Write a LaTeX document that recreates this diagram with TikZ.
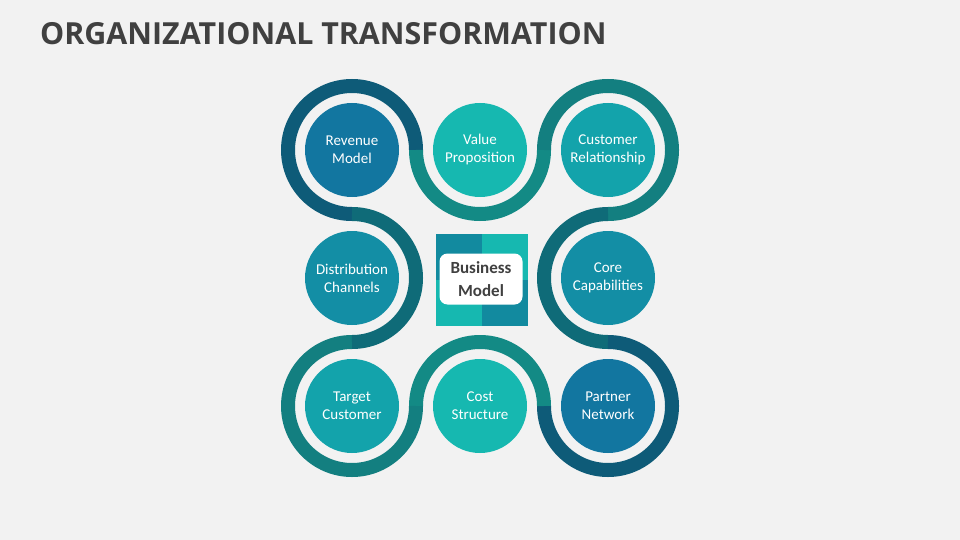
\documentclass[tikz,border=0pt]{standalone}
\usepackage{fontspec}
\setmainfont{Carlito}
\newfontfamily\titlefont{Open Sans}
\definecolor{bg}{HTML}{F2F2F2}
\definecolor{dkb}{HTML}{0E5B78}
\definecolor{tg}{HTML}{138A85}
\definecolor{tm}{HTML}{137F80}
\definecolor{tb}{HTML}{0F6B78}
\definecolor{cblue}{HTML}{1276A0}
\definecolor{clight}{HTML}{16B8B0}
\definecolor{cmid}{HTML}{13A3AB}
\definecolor{cdist}{HTML}{138EA5}
\definecolor{sqd}{HTML}{128A9F}
\begin{document}
\begin{tikzpicture}[x=1pt,y=-1pt,
  ring/.style={line width=14pt},
  disc/.style={circle,minimum size=94pt,inner sep=0pt,text=white,align=center,font=\fontsize{15}{18}\selectfont}]
\fill[bg] (0,0) rectangle (960,540);
\useasboundingbox (0,0) rectangle (960,540);
\node[anchor=base west,inner sep=0pt,text=black!75,font=\titlefont\bfseries\fontsize{30.4}{35}\selectfont] (title) at (40,45) {ORGANIZATIONAL TRANSFORMATION};
\draw[ring,dkb] (416,150) arc[start angle=0,end angle=-270,radius=64];
\draw[ring,tg] (416,150) arc[start angle=180,end angle=0,radius=64];
\draw[ring,tm] (544,150) arc[start angle=180,end angle=450,radius=64];
\draw[ring,tb] (608,214) arc[start angle=-90,end angle=-270,radius=64];
\draw[ring,dkb] (608,342) arc[start angle=-90,end angle=180,radius=64];
\draw[ring,tg] (544,406) arc[start angle=0,end angle=-180,radius=64];
\draw[ring,tm] (416,406) arc[start angle=0,end angle=270,radius=64];
\draw[ring,tb] (352,342) arc[start angle=90,end angle=-90,radius=64];
\node[disc,fill=cblue] (rev) at (352,150) {Revenue\\Model};
\node[disc,fill=clight] (val) at (480,150) {Value\\Proposition};
\node[disc,fill=cmid] (cus) at (608,150) {Customer\\Relationship};
\node[disc,fill=cdist] (dis) at (352,278) {Distribution\\Channels};
\node[disc,fill=cdist] (cor) at (608,278) {Core\\Capabilities};
\node[disc,fill=cmid] (tar) at (352,406) {Target\\Customer};
\node[disc,fill=clight] (cos) at (480,406) {Cost\\Structure};
\node[disc,fill=cblue] (par) at (608,406) {Partner\\Network};
\fill[sqd] (436,234) rectangle (482,280);
\fill[clight] (482,234) rectangle (528,280);
\fill[clight] (436,280) rectangle (482,326);
\fill[sqd] (482,280) rectangle (528,326);
\node[fill=white,rounded corners=8pt,minimum width=83pt,minimum height=51pt,align=center,text=black!75,font=\bfseries\fontsize{17}{23}\selectfont] (bm) at (481,279) {Business\\Model};
\end{tikzpicture}
\end{document}
